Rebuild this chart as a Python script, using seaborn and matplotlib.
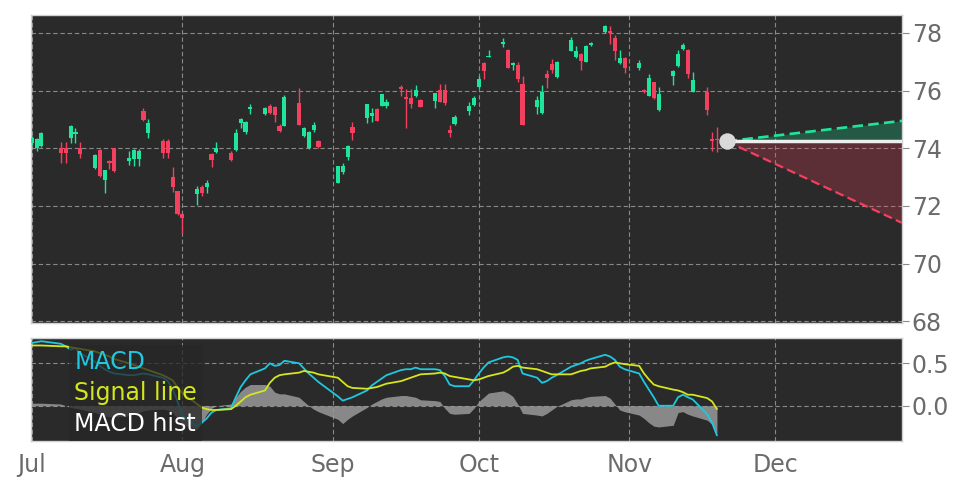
import numpy as np
import pandas as pd
import matplotlib
matplotlib.use("Agg")
import matplotlib.pyplot as plt
import matplotlib.dates as mdates
import matplotlib.ticker as mticker
from matplotlib.lines import Line2D
import seaborn as sns

# trading days Jul 1 - Nov 19 2025 (Jul 4 and Labor Day closed)
days = pd.bdate_range("2025-07-01", "2025-11-19")
days = days[~days.isin(pd.to_datetime(["2025-07-04", "2025-09-01"]))]

opens = [74.17, 74.00, 74.08,
         74.02, 74.02, 74.34, 74.48, 74.00,
         73.32, 73.94, 72.90, 73.57, 74.00,
         73.57, 73.63, 73.63, 75.30, 74.52,
         74.26, 74.26, 73.01, 72.51, 71.72,
         72.41, 72.66, 72.64, 73.79, 73.86,
         73.82, 73.94, 74.86, 74.57, 75.35,
         75.19, 75.47, 75.44, 74.77, 74.78,
         75.56, 74.43, 74.00, 74.63, 74.25,
         72.80, 73.18, 73.70, 74.75,
         75.04, 75.12, 75.36, 75.47, 75.48,
         76.14, 75.79, 75.75, 75.81, 75.67,
         75.65, 76.02, 76.02, 74.63, 74.84,
         75.30, 75.50, 76.11, 76.97, 77.16,
         77.62, 77.41, 76.89, 76.89, 76.23,
         75.44, 75.21, 76.58, 76.92, 76.46,
         77.38, 77.16, 77.26, 77.00, 77.58,
         78.02, 78.05, 77.84, 76.95, 77.14,
         76.77, 76.02, 75.82, 76.29, 75.33,
         76.50, 76.85, 77.44, 77.41, 75.96,
         75.96, 74.32, 74.32]
closes = [74.34, 74.31, 74.54,
          73.82, 73.84, 74.77, 74.57, 73.79,
          73.76, 73.03, 73.24, 73.48, 73.21,
          73.65, 73.94, 73.92, 74.98, 74.86,
          73.82, 73.85, 72.66, 71.72, 71.57,
          72.58, 72.45, 72.80, 73.59, 74.00,
          73.59, 74.52, 75.00, 74.92, 75.44,
          75.41, 75.21, 75.15, 74.61, 75.79,
          74.81, 74.71, 74.57, 74.81, 74.03,
          73.38, 73.38, 74.08, 74.52,
          75.52, 75.21, 74.95, 75.87, 75.62,
          76.07, 75.71, 75.53, 76.02, 75.44,
          75.91, 75.62, 75.58, 74.54, 75.09,
          75.47, 75.73, 76.39, 76.69, 77.21,
          77.70, 76.80, 76.97, 76.40, 74.81,
          75.67, 75.96, 76.43, 76.72, 77.00,
          77.76, 77.38, 77.04, 77.55, 77.66,
          78.25, 77.99, 77.38, 77.14, 76.77,
          76.95, 75.96, 76.43, 75.73, 75.88,
          76.69, 77.27, 77.58, 76.57, 76.37,
          75.33, 74.25, 74.27]
highs = [74.42, 74.36, 74.58,
         74.23, 74.23, 74.80, 74.71, 74.23,
         73.80, 73.96, 73.26, 73.60, 74.02,
         73.92, 73.96, 73.96, 75.38, 75.00,
         74.33, 74.33, 73.36, 72.53, 71.75,
         72.69, 72.72, 72.90, 73.85, 74.23,
         73.90, 74.66, 75.06, 74.95, 75.53,
         75.44, 75.55, 75.46, 74.85, 75.83,
         76.10, 74.74, 74.60, 74.90, 74.27,
         73.40, 73.50, 74.12, 74.92,
         75.54, 75.40, 75.38, 75.89, 75.72,
         76.20, 76.04, 76.07, 76.20, 75.70,
         75.93, 76.24, 76.24, 74.80, 75.17,
         75.60, 75.80, 76.50, 77.00, 77.40,
         77.84, 77.43, 77.00, 77.00, 76.50,
         75.80, 76.20, 76.72, 77.10, 77.02,
         77.87, 77.55, 77.30, 77.57, 77.70,
         78.27, 78.25, 77.93, 77.40, 77.16,
         77.05, 76.05, 76.56, 76.31, 76.13,
         76.72, 77.40, 77.66, 77.43, 76.63,
         76.11, 74.57, 74.75]
lows = [74.10, 73.92, 74.05,
        73.50, 73.50, 74.17, 74.19, 73.65,
        73.28, 73.00, 72.43, 73.27, 73.19,
        73.43, 73.37, 73.40, 74.96, 74.34,
        73.65, 73.65, 72.47, 71.70, 71.05,
        72.03, 72.34, 72.45, 73.34, 73.84,
        73.55, 73.92, 74.71, 74.50, 75.20,
        75.17, 75.19, 74.90, 74.55, 74.76,
        74.79, 74.40, 73.98, 74.55, 74.01,
        72.78, 73.10, 73.60, 74.28,
        74.86, 74.90, 74.93, 75.45, 75.40,
        75.80, 74.69, 75.40, 75.79, 75.42,
        75.40, 75.60, 75.50, 74.40, 74.80,
        75.15, 75.48, 76.09, 76.40, 77.15,
        77.50, 76.78, 76.70, 76.30, 74.79,
        75.20, 75.19, 76.08, 76.60, 76.44,
        77.36, 77.14, 76.70, 76.98, 77.55,
        78.00, 77.60, 77.06, 76.93, 76.60,
        76.70, 75.93, 75.80, 75.71, 75.30,
        76.20, 76.83, 77.40, 76.45, 75.94,
        75.15, 73.91, 73.86]

macd = [0.74, 0.75, 0.76,
        0.73, 0.70, 0.66, 0.68, 0.62,
        0.52, 0.47, 0.43, 0.40, 0.38,
        0.36, 0.36, 0.37, 0.38, 0.37,
        0.33, 0.29, 0.20, 0.05, -0.12,
        -0.24, -0.20, -0.15, -0.08, -0.05,
        -0.03, 0.10, 0.22, 0.30, 0.37,
        0.44, 0.50, 0.47, 0.48, 0.53,
        0.50, 0.44, 0.38, 0.33, 0.28,
        0.11, 0.06, 0.08, 0.10,
        0.18, 0.24, 0.28, 0.32, 0.36,
        0.42, 0.43, 0.43, 0.45, 0.43,
        0.43, 0.42, 0.35, 0.25, 0.23,
        0.23, 0.30, 0.38, 0.45, 0.51,
        0.57, 0.58, 0.57, 0.54, 0.38,
        0.33, 0.27, 0.29, 0.33, 0.36,
        0.46, 0.48, 0.50, 0.53, 0.55,
        0.60, 0.58, 0.54, 0.46, 0.43,
        0.38, 0.28, 0.19, 0.10, 0.00,
        0.00, 0.10, 0.13, 0.10, 0.075,
        -0.10, -0.20, -0.35]
signal = [0.71, 0.71, 0.71,
          0.70, 0.70, 0.69, 0.68, 0.67,
          0.64, 0.62, 0.60, 0.58, 0.55,
          0.50, 0.48, 0.46, 0.44, 0.42,
          0.36, 0.33, 0.30, 0.22, 0.15,
          0.02, -0.02, -0.04, -0.05, -0.05,
          -0.04, 0.00, 0.05, 0.10, 0.13,
          0.18, 0.27, 0.33, 0.36, 0.37,
          0.39, 0.41, 0.40, 0.39, 0.37,
          0.33, 0.28, 0.23, 0.21,
          0.20, 0.21, 0.22, 0.24, 0.26,
          0.29, 0.31, 0.33, 0.35, 0.37,
          0.38, 0.39, 0.38, 0.35, 0.34,
          0.31, 0.30, 0.31, 0.33, 0.35,
          0.39, 0.42, 0.46, 0.47, 0.45,
          0.43, 0.41, 0.39, 0.37, 0.37,
          0.37, 0.39, 0.41, 0.42, 0.44,
          0.46, 0.49, 0.51, 0.50, 0.49,
          0.47, 0.38, 0.31, 0.25, 0.23,
          0.19, 0.18, 0.16, 0.13, 0.13,
          0.09, 0.05, -0.04]
hist = [0.03, 0.03, 0.03,
        0.02, 0.00, -0.02, -0.03, -0.04,
        -0.08, -0.10, -0.12, -0.13, -0.13,
        -0.12, -0.10, -0.08, -0.06, -0.05,
        -0.04, -0.05, -0.08, -0.15, -0.22,
        -0.28, -0.20, -0.10, -0.03, 0.00,
        0.02, 0.10, 0.17, 0.22, 0.25,
        0.25, 0.23, 0.16, 0.14, 0.14,
        0.10, 0.05, 0.00, -0.04, -0.07,
        -0.16, -0.21, -0.16, -0.12,
        -0.02, 0.02, 0.05, 0.08, 0.10,
        0.12, 0.12, 0.11, 0.10, 0.07,
        0.06, 0.05, -0.03, -0.09, -0.10,
        -0.09, -0.03, 0.05, 0.10, 0.15,
        0.175, 0.15, 0.11, 0.02, -0.09,
        -0.11, -0.12, -0.09, -0.05, -0.01,
        0.07, 0.08, 0.08, 0.10, 0.11,
        0.12, 0.09, 0.02, -0.05, -0.07,
        -0.11, -0.15, -0.20, -0.24, -0.25,
        -0.23, -0.08, -0.07, -0.10, -0.12,
        -0.17, -0.22, -0.33]

# projection cone
last_date = pd.Timestamp("2025-11-21")
last_price = 74.24
end_date = pd.Timestamp("2025-12-27 02:00")
upper_end = 74.95
lower_end = 71.41

GREEN = "#1ee59b"
RED = "#f2405e"
BG = "#2a2a2a"
TXT = "#6b6b6b"
FS = 17

sns.set_style("dark", {"axes.facecolor": BG, "figure.facecolor": "white"})
plt.rcParams["font.family"] = ["DejaVu Sans"]

fig = plt.figure(figsize=(9.72, 4.86), dpi=100)
ax1 = fig.add_axes([0.032, 0.335, 0.896, 0.634])
ax2 = fig.add_axes([0.032, 0.093, 0.896, 0.211], sharex=ax1)

o = np.array(opens)
c = np.array(closes)
up = c >= o
cols = np.where(up, GREEN, RED)

ax1.vlines(days, lows, highs, colors=cols, lw=1.0, zorder=3)
body = np.maximum(np.abs(c - o), 0.05)
ax1.bar(days, body, bottom=np.minimum(o, c), width=0.85, color=cols, zorder=4, lw=0)

# cone
xs = [last_date, end_date]
ax1.fill_between(xs, [last_price, last_price], [last_price, upper_end],
                 color=GREEN, alpha=0.25, lw=0, zorder=2)
ax1.fill_between(xs, [last_price, last_price], [last_price, lower_end],
                 color=RED, alpha=0.25, lw=0, zorder=2)
ax1.plot(xs, [last_price, upper_end], color=GREEN, lw=1.9, ls=(0, (4, 2)), zorder=5)
ax1.plot(xs, [last_price, lower_end], color=RED, lw=1.6, ls=(0, (4, 2)), zorder=5)
ax1.plot(xs, [last_price, last_price], color="#eeeeee", lw=2.5, zorder=5)
ax1.scatter([last_date], [last_price], s=140, color="#d9d9d9", zorder=7, lw=0)

ax1.set_ylim(67.93, 78.62)
ax1.set_yticks([68, 70, 72, 74, 76, 78])

# MACD panel
ax2.fill_between(days, 0, hist, color="#9a9a9a", alpha=0.85, lw=0, zorder=2)
sns.lineplot(x=days, y=macd, ax=ax2, color="#1ec8e0", lw=1.3, zorder=3)
sns.lineplot(x=days, y=signal, ax=ax2, color="#d4e61c", lw=1.3, zorder=3)
ax2.set_ylim(-0.413, 0.795)
ax2.set_yticks([0.0, 0.5])
ax2.yaxis.set_major_formatter(mticker.FormatStrFormatter("%.1f"))

handles = [Line2D([], [], color="#1ec8e0"), Line2D([], [], color="#d4e61c"),
           Line2D([], [], color="white")]
leg = ax2.legend(handles, ["MACD", "Signal line", "MACD hist"], loc="upper left",
                 bbox_to_anchor=(0.044, 0.93), borderaxespad=0, borderpad=0.2,
                 handlelength=0, handletextpad=0, labelspacing=0.3,
                 fontsize=FS, frameon=True, fancybox=False)
leg.get_frame().set_facecolor("#262626")
leg.get_frame().set_alpha(0.75)
leg.get_frame().set_edgecolor("none")
for t, col in zip(leg.get_texts(), ["#1ec8e0", "#d4e61c", "white"]):
    t.set_color(col)

ax1.set_xlim(pd.Timestamp("2025-06-30 21:00"), end_date)
minor = [pd.Timestamp("2025-07-01") + pd.Timedelta(days=10 + 20 * k) for k in range(9)]
for ax in (ax1, ax2):
    ax.xaxis.set_major_locator(mdates.MonthLocator())
    ax.xaxis.set_major_formatter(mdates.DateFormatter("%b"))
    ax.xaxis.set_minor_locator(mticker.FixedLocator(mdates.date2num(minor)))
    ax.yaxis.tick_right()
    ax.grid(True, which="major", color="#a0a0a0", ls=(0, (4, 2.5)), lw=0.8, alpha=0.8)
    ax.tick_params(axis="both", which="major", labelsize=FS, labelcolor=TXT,
                   color="#888888", length=5, direction="out")
    ax.tick_params(axis="y", which="major", pad=2)
    ax.tick_params(axis="x", which="minor", color="#888888", length=3, direction="out")
    for s in ax.spines.values():
        s.set_color("#d0d0d0")
        s.set_linewidth(1.0)
    ax.set_xlabel("")
    ax.set_ylabel("")
ax1.tick_params(axis="x", which="both", labelbottom=False)

fig.savefig("out.png", dpi=100)
